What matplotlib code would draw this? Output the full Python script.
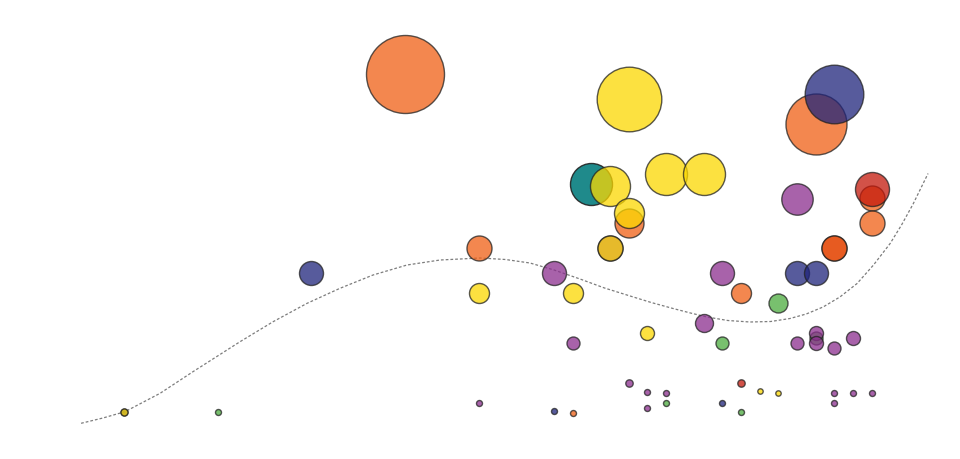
"""Bubble chart with a dashed trend line."""
import matplotlib
matplotlib.use("Agg")
import matplotlib.pyplot as plt
import numpy as np

# bubble data, listed in drawing order (later points lie on top)
xs = [20, 42, 43, 30, 31, 32, 32, 32, 34, 36,
      41, 45, 45, 45, 24, 28, 37, 41, 42, 15,
      43, 43, 31, 31, 24, 29, 38, 40, 36, 33,
      29, 37, 41, 42, 42, 42, 43, 44, 32, 33,
      34, 33, 34, 38, 39, 40, 37, 38, 43, 44,
      45, 43, 24, 28, 29, 5, 5, 10]
ys = [35.9, 30.9, 33.9, 24.9, 24.7, 33.4, 21.0, 22.0, 25.9, 25.9,
      23.4, 23.5, 24.4, 21.0, 18.5, 16.0, 16.0, 16.0, 16.0, 16.0,
      18.5, 18.5, 18.5, 18.5, 14.0, 14.0, 14.0, 13.0, 11.0, 10.0,
      9.0, 9.0, 9.0, 9.5, 10.0, 9.0, 8.5, 9.5, 5.0, 4.1,
      4.0, 2.5, 3.0, 5.0, 4.2, 4.0, 3.0, 2.1, 4.0, 4.0,
      4.0, 3.0, 3.0, 2.2, 2.0, 2.1, 2.1, 2.1]
magnitude = [39, 30.5, 29.3, 21, 20, 32.3, 14.5, 15, 21, 21,
             15.7, 12.5, 17, 12.5, 12.5, 12, 12, 12, 12, 12,
             12.5, 12.5, 12.5, 12.5, 10, 10, 10, 9.5, 9, 7,
             6.5, 6.5, 6.5, 6.5, 7, 7, 6.5, 7, 3.7, 3,
             3, 3, 3, 3.7, 2.7, 2.7, 3, 3, 3, 3,
             3, 3, 3, 3, 3, 3.5, 3.5, 3]
groups = ["orange", "orange", "blue", "teal", "yellow",
          "yellow", "orange", "yellow", "yellow", "yellow",
          "purple", "orange", "red", "orange", "orange",
          "purple", "purple", "blue", "blue", "blue",
          "red", "orange", "purple", "yellow", "yellow",
          "yellow", "orange", "green", "purple", "yellow",
          "purple", "green", "purple", "green", "purple",
          "purple", "purple", "purple", "purple", "purple",
          "purple", "purple", "green", "red", "yellow",
          "yellow", "blue", "green", "purple", "purple",
          "purple", "purple", "purple", "blue", "orange",
          "blue", "yellow", "green"]

# trend line
trend_x = [2.68, 3.85, 5.03, 6.91, 8.67, 11.19, 12.96, 14.78, 16.54, 18.31,
           20.13, 21.9, 24.04, 25.4, 26.71, 28.0, 29.39, 30.7, 32.07, 33.2,
           34.37, 35.3, 36.19, 37.3, 38.49, 39.6, 40.63, 41.5, 42.40, 43.3,
           44.22, 45.1, 45.99, 46.6, 47.22, 48.02]
trend_y = [0.97, 1.5, 2.13, 3.97, 6.13, 9.13, 11.13, 12.97, 14.47, 15.8,
           16.8, 17.3, 17.5, 17.35, 17.0, 16.3, 15.4, 14.5, 13.7, 13.05,
           12.45, 12.0, 11.6, 11.25, 11.1, 11.15, 11.45, 11.9, 12.6, 13.6,
           14.95, 16.8, 18.95, 20.8, 22.9, 25.95]

palette = {
    "orange": "#ef5f14",
    "yellow": "#fcd800",
    "blue": "#1f247b",
    "purple": "#8b2e8e",
    "green": "#4bab3e",
    "red": "#c4180b",
    "teal": "#067d7f",
}

fig = plt.figure(figsize=(9.6, 4.59), dpi=100)
ax = fig.add_axes([0, 0, 1, 1])

ax.plot(trend_x, trend_y, color="#666666", lw=0.9, ls=(0, (2.2, 1.6)),
        alpha=0.85, zorder=1)

sizes = (1.44 * np.array(magnitude)) ** 2
for x, y, s, g in zip(xs, ys, sizes, groups):
    ax.scatter(x, y, s=s, c=palette[g], alpha=0.9 if g == "teal" else 0.75,
               edgecolors="#222222", linewidths=1.0, zorder=2)

ax.set_xlim(-1.66, 49.73)
ax.set_ylim(-2.6, 43.3)
ax.axis("off")

fig.savefig("out.png", dpi=100)
